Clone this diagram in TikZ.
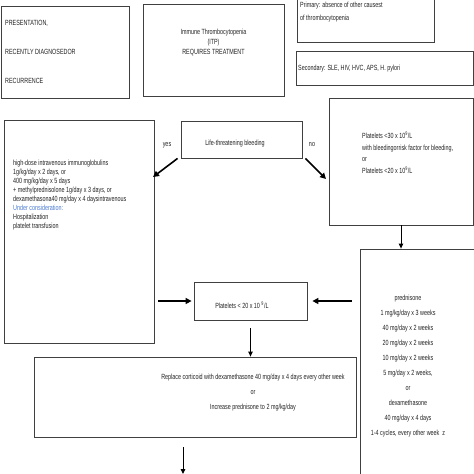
\documentclass[tikz,border=0pt]{standalone}
\usepackage{fontspec}
\setmainfont[FakeStretch=0.72]{Liberation Sans}
\usetikzlibrary{arrows.meta}
\definecolor{boxline}{HTML}{404040}
\definecolor{txtgray}{HTML}{222222}
\definecolor{considerblue}{HTML}{4A7BD0}

\begin{document}
\begin{tikzpicture}[x=1pt, y=-1pt,
  box/.style={draw=boxline, line width=0.8pt, inner sep=0pt},
  txt/.style={inner sep=0pt, text=txtgray, font=\fontsize{7.5}{9}\selectfont},
  bigarrow/.style={line width=1.6pt, -{Triangle[length=6pt,width=6pt]}},
  thinarrow/.style={line width=0.9pt, -{Triangle[length=5pt,width=4.5pt]}}]
\useasboundingbox (0,0) rectangle (474,474);
% boxes
\node[box, minimum width=128pt, minimum height=92pt] (pres) at (65, 52) {};
\node[box, minimum width=141pt, minimum height=92pt] (itp) at (213.5, 50) {};
\node[box, minimum width=137pt, minimum height=45pt] (prim) at (365.5, 19.5) {};
\node[box, minimum width=177pt, minimum height=34pt] (sec) at (384.5, 68) {};
\node[box, minimum width=144pt, minimum height=127pt] (plt30) at (401, 161.5) {};
\node[box, minimum width=150pt, minimum height=223pt] (ivig) at (79, 231.5) {};
\node[box, minimum width=121pt, minimum height=37pt] (life) at (241.5, 139.5) {};
\node[box, minimum width=113pt, minimum height=38pt] (plt20) at (250.5, 301) {};
\node[box, minimum width=125pt, minimum height=241pt] (pred) at (422.5, 369.5) {};
\node[box, minimum width=322pt, minimum height=80pt] (repl) at (195, 397) {};
% texts
\node[txt, anchor=north west, align=left, font=\fontsize{7.5}{29}\selectfont] (prestxt) at (5, 20.5)
  {PRESENTATION,\\RECENTLY DIAGNOSEDOR\\RECURRENCE};
\node[txt, anchor=north, align=center, font=\fontsize{7.5}{10}\selectfont] (itptxt) at (213.5, 28.5)
  {Immune Thrombocytopenia\\(ITP)\\REQUIRES TREATMENT};
\node[txt, anchor=north west, align=left, font=\fontsize{7.5}{13}\selectfont] (primtxt) at (300, 1.5)
  {Primary: absence of other causest\\of thrombocytopenia};
\node[txt, anchor=west] (sectxt) at (298, 69) {Secondary: SLE, HIV, HVC, APS, H. pylori};
\node[txt, anchor=north west, align=left, font=\fontsize{7.5}{11.7}\selectfont] (plt30txt) at (362, 131.5)
  {Platelets {<}30 x 10\textsuperscript{9}/L\\with bleedingorrisk factor for bleeding,\\or\\Platelets {<}20 x 10\textsuperscript{9}/L};
\node[txt, anchor=north west, align=left] (ivigtxt) at (13, 159.5)
  {high-dose intravenous immunoglobulins\\1g/kg/day x 2 days, or\\400 mg/kg/day x 5 days\\
   + methylprednisolone 1g/day x 3 days, or\\dexamethasona40 mg/day x 4 daysintravenous\\
   \textcolor{considerblue}{Under consideration:}\\Hospitalization\\platelet transfusion};
\node[txt] (lifetxt) at (235, 144) {Life-threatening bleeding};
\node[txt] (plt20txt) at (242, 305) {Platelets {<} 20 x 10 \textsuperscript{9}/L};
\node[txt, anchor=north, align=center, font=\fontsize{7.5}{15}\selectfont] (predtxt) at (408, 294.5)
  {prednisone\\1 mg/kg/day x 3 weeks\\40 mg/day x 2 weeks\\20 mg/day x 2 weeks\\10 mg/day x 2 weeks\\
   5 mg/day x 2 weeks,\\or\\dexamethasone\\40 mg/day x 4 days\\1-4 cycles, every other week\ \ z};
\node[txt, anchor=north, align=center, font=\fontsize{7.5}{15}\selectfont] (repltxt) at (253, 373.5)
  {Replace corticoid with dexamethasone 40 mg/day x 4 days every other week\\or\\Increase prednisone to 2 mg/kg/day};
\node[txt] (yes) at (167, 145) {yes};
\node[txt] (no) at (312, 145) {no};
% connectors
\coordinate (yesend) at (153, 177);
\coordinate (noend) at (326, 179);
\coordinate (outend) at (183, 474);
\draw[bigarrow] ([xshift=-3pt]life.south west) -- (yesend);
\draw[bigarrow] ([xshift=3pt]life.south east) -- (noend);
\draw[thinarrow] (plt30.south) -- (plt30.south |- pred.north);
\draw[bigarrow] ([xshift=4pt]ivig.east |- plt20.west) -- ([xshift=-2pt]plt20.west);
\draw[bigarrow] ([xshift=-8pt]pred.west |- plt20.east) -- ([xshift=5pt]plt20.east);
\draw[thinarrow] ([yshift=-8pt]plt20.south) -- (plt20.south |- repl.north);
\draw[thinarrow] ([xshift=-12pt,yshift=-10pt]repl.south) -- (outend);
\end{tikzpicture}
\end{document}
